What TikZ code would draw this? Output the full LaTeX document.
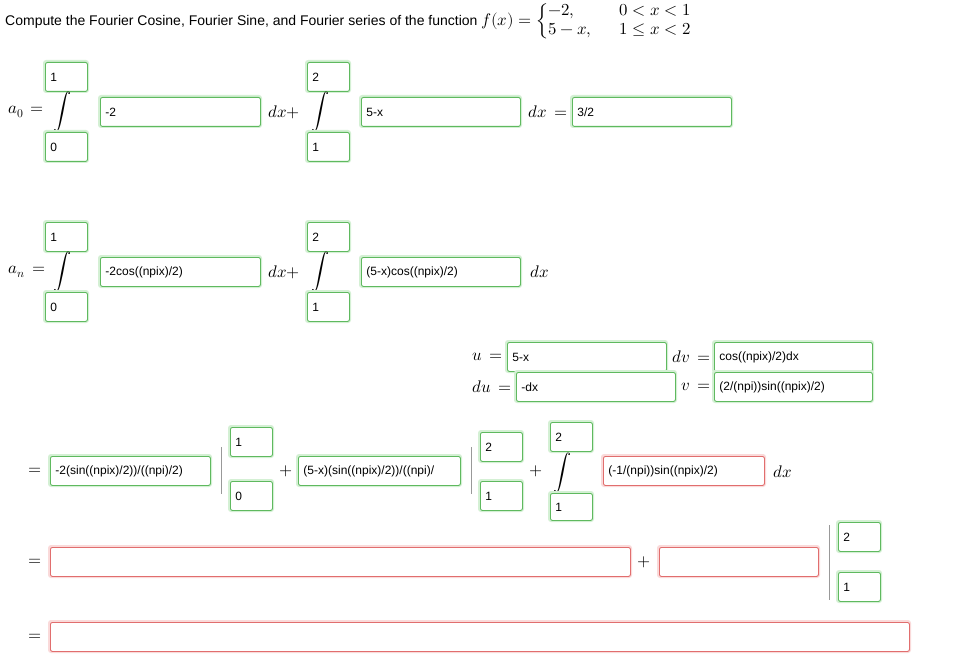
\documentclass[tikz,border=0pt]{standalone}
\usepackage{amsmath}
\usepackage{fontspec}
\setmainfont{Liberation Sans}
\usepackage{unicode-math}
\setmathfont{Latin Modern Math}[Scale=1.2]
\definecolor{gbrd}{RGB}{95,185,95}
\definecolor{gglow}{RGB}{212,240,212}
\definecolor{rbrd}{RGB}{225,110,110}
\definecolor{rglow}{RGB}{250,218,218}
\tikzset{
  gbox/.style={draw=gbrd, line width=0.9pt, rounded corners=2pt, fill=white, inner xsep=5pt, inner ysep=0pt, align=left, font=\fontsize{12}{14}\selectfont},
  rbox/.style={gbox, draw=rbrd},
  lab/.style={font=\fontsize{14}{16}\selectfont, inner sep=0pt},
  bar/.style={draw=gray!80, line width=0.8pt},
}
% \bx{name}{x1}{y1}{x2}{y2}{text}{style}{glow}
\newcommand{\bx}[8]{%
  \fill[#8, rounded corners=3pt] (#2-2,#3-2) rectangle (#4+2,#5+2);
  \node[#7, anchor=north west, minimum width=#4pt-#2pt, minimum height=#5pt-#3pt, text width=#4pt-#2pt-10pt] (#1) at (#2,#3) {#6};}
\newcommand{\intg}[3]{\node[inner sep=0pt] (#1) at (#2,#3) {\fontsize{15}{15}\selectfont$\displaystyle\int$};}
\begin{document}
\begin{tikzpicture}[x=1pt,y=-1pt]
\useasboundingbox[fill=white] (0,0) rectangle (956,666);
\node[anchor=west, inner sep=0pt, font=\fontsize{14}{16}\selectfont] (hdr) at (5,21) {Compute the Fourier Cosine, Fourier Sine, and Fourier series of the function $f(x)=\begin{cases}-2, & \;\;\;0<x<1\\ 5-x, & \;\;\;1\le x<2\end{cases}$};
% row 1
\node[lab, anchor=west] (a0) at (8,112) {$a_0\,=$};
\bx{r1u1}{45}{62}{87}{91}{1}{gbox}{gglow}
\intg{r1i1}{62}{112}
\bx{r1l1}{45}{132}{87}{161}{0}{gbox}{gglow}
\bx{r1f1}{100}{97}{260}{126}{-2}{gbox}{gglow}
\node[lab, anchor=west] (r1dx1) at (268,112) {$dx+$};
\bx{r1u2}{307}{62}{349}{91}{2}{gbox}{gglow}
\intg{r1i2}{320}{112}
\bx{r1l2}{307}{132}{349}{161}{1}{gbox}{gglow}
\bx{r1f2}{361}{97}{520}{126}{5-x}{gbox}{gglow}
\node[lab, anchor=west] (r1dx2) at (528,112) {$dx\,=$};
\bx{r1res}{572}{97}{731}{126}{3/2}{gbox}{gglow}
% row 2
\node[lab, anchor=west] (an) at (8,272) {$a_n\,=$};
\bx{r2u1}{45}{222}{87}{251}{1}{gbox}{gglow}
\intg{r2i1}{62}{272}
\bx{r2l1}{45}{292}{87}{321}{0}{gbox}{gglow}
\bx{r2f1}{100}{257}{260}{286}{-2cos((npix)/2)}{gbox}{gglow}
\node[lab, anchor=west] (r2dx1) at (268,272) {$dx+$};
\bx{r2u2}{307}{222}{349}{251}{2}{gbox}{gglow}
\intg{r2i2}{320}{272}
\bx{r2l2}{307}{292}{349}{321}{1}{gbox}{gglow}
\bx{r2f2}{361}{257}{520}{286}{(5-x)cos((npix)/2)}{gbox}{gglow}
\node[lab, anchor=west] (r2dx2) at (530,272) {$dx$};
% substitution
\node[lab, anchor=east] (ulab) at (503,357) {$u\,=$};
\bx{ubox}{507}{342}{666}{371}{5-x}{gbox}{gglow}
\node[lab, anchor=east] (dvlab) at (711,357) {$dv\,=$};
\bx{dvbox}{714}{342}{872}{371}{cos((npix)/2)dx}{gbox}{gglow}
\node[lab, anchor=east] (dulab) at (512,387) {$du\,=$};
\bx{dubox}{516}{372}{675}{401}{-dx}{gbox}{gglow}
\node[lab, anchor=east] (vlab) at (711,387) {$v\,=$};
\bx{vbox}{714}{372}{872}{401}{(2/(npi))sin((npix)/2)}{gbox}{gglow}
% row 3
\node[lab] (eq3) at (35,471) {$=$};
\bx{r3a}{50}{456}{210}{485}{-2(sin((npix)/2))/((npi)/2)}{gbox}{gglow}
\coordinate (b1t) at (221,447); \coordinate (b1b) at (221,494);
\draw[bar] (b1t) -- (b1b);
\bx{r3au}{230}{427}{272}{456}{1}{gbox}{gglow}
\bx{r3al}{230}{481}{272}{510}{0}{gbox}{gglow}
\node[lab] (p1) at (286,471) {$+$};
\bx{r3b}{298}{456}{460}{485}{(5-x)(sin((npix)/2))/((npi)/}{gbox}{gglow}
\coordinate (b2t) at (471,447); \coordinate (b2b) at (471,494);
\draw[bar] (b2t) -- (b2b);
\bx{r3bu}{480}{432}{522}{461}{2}{gbox}{gglow}
\bx{r3bl}{480}{481}{522}{510}{1}{gbox}{gglow}
\node[lab] (p2) at (536,471) {$+$};
\bx{r3cu}{550}{422}{592}{451}{2}{gbox}{gglow}
\intg{r3i}{562}{473}
\bx{r3cl}{550}{493}{592}{520}{1}{gbox}{gglow}
\bx{r3c}{603}{456}{764}{485}{(-1/(npi))sin((npix)/2)}{rbox}{rglow}
\node[lab, anchor=west] (r3dx) at (773,472) {$dx$};
% row 4
\node[lab] (eq4) at (35,562) {$=$};
\bx{r4a}{50}{547}{630}{576}{}{rbox}{rglow}
\node[lab] (p3) at (644,562) {$+$};
\bx{r4b}{659}{547}{818}{576}{}{rbox}{rglow}
\coordinate (b3t) at (829,525); \coordinate (b3b) at (829,600);
\draw[bar] (b3t) -- (b3b);
\bx{r4u}{838}{522}{880}{551}{2}{gbox}{gglow}
\bx{r4l}{838}{572}{880}{601}{1}{gbox}{gglow}
% row 5
\node[lab] (eq5) at (35,637) {$=$};
\bx{r5}{50}{622}{909}{651}{}{rbox}{rglow}
\end{tikzpicture}
\end{document}
